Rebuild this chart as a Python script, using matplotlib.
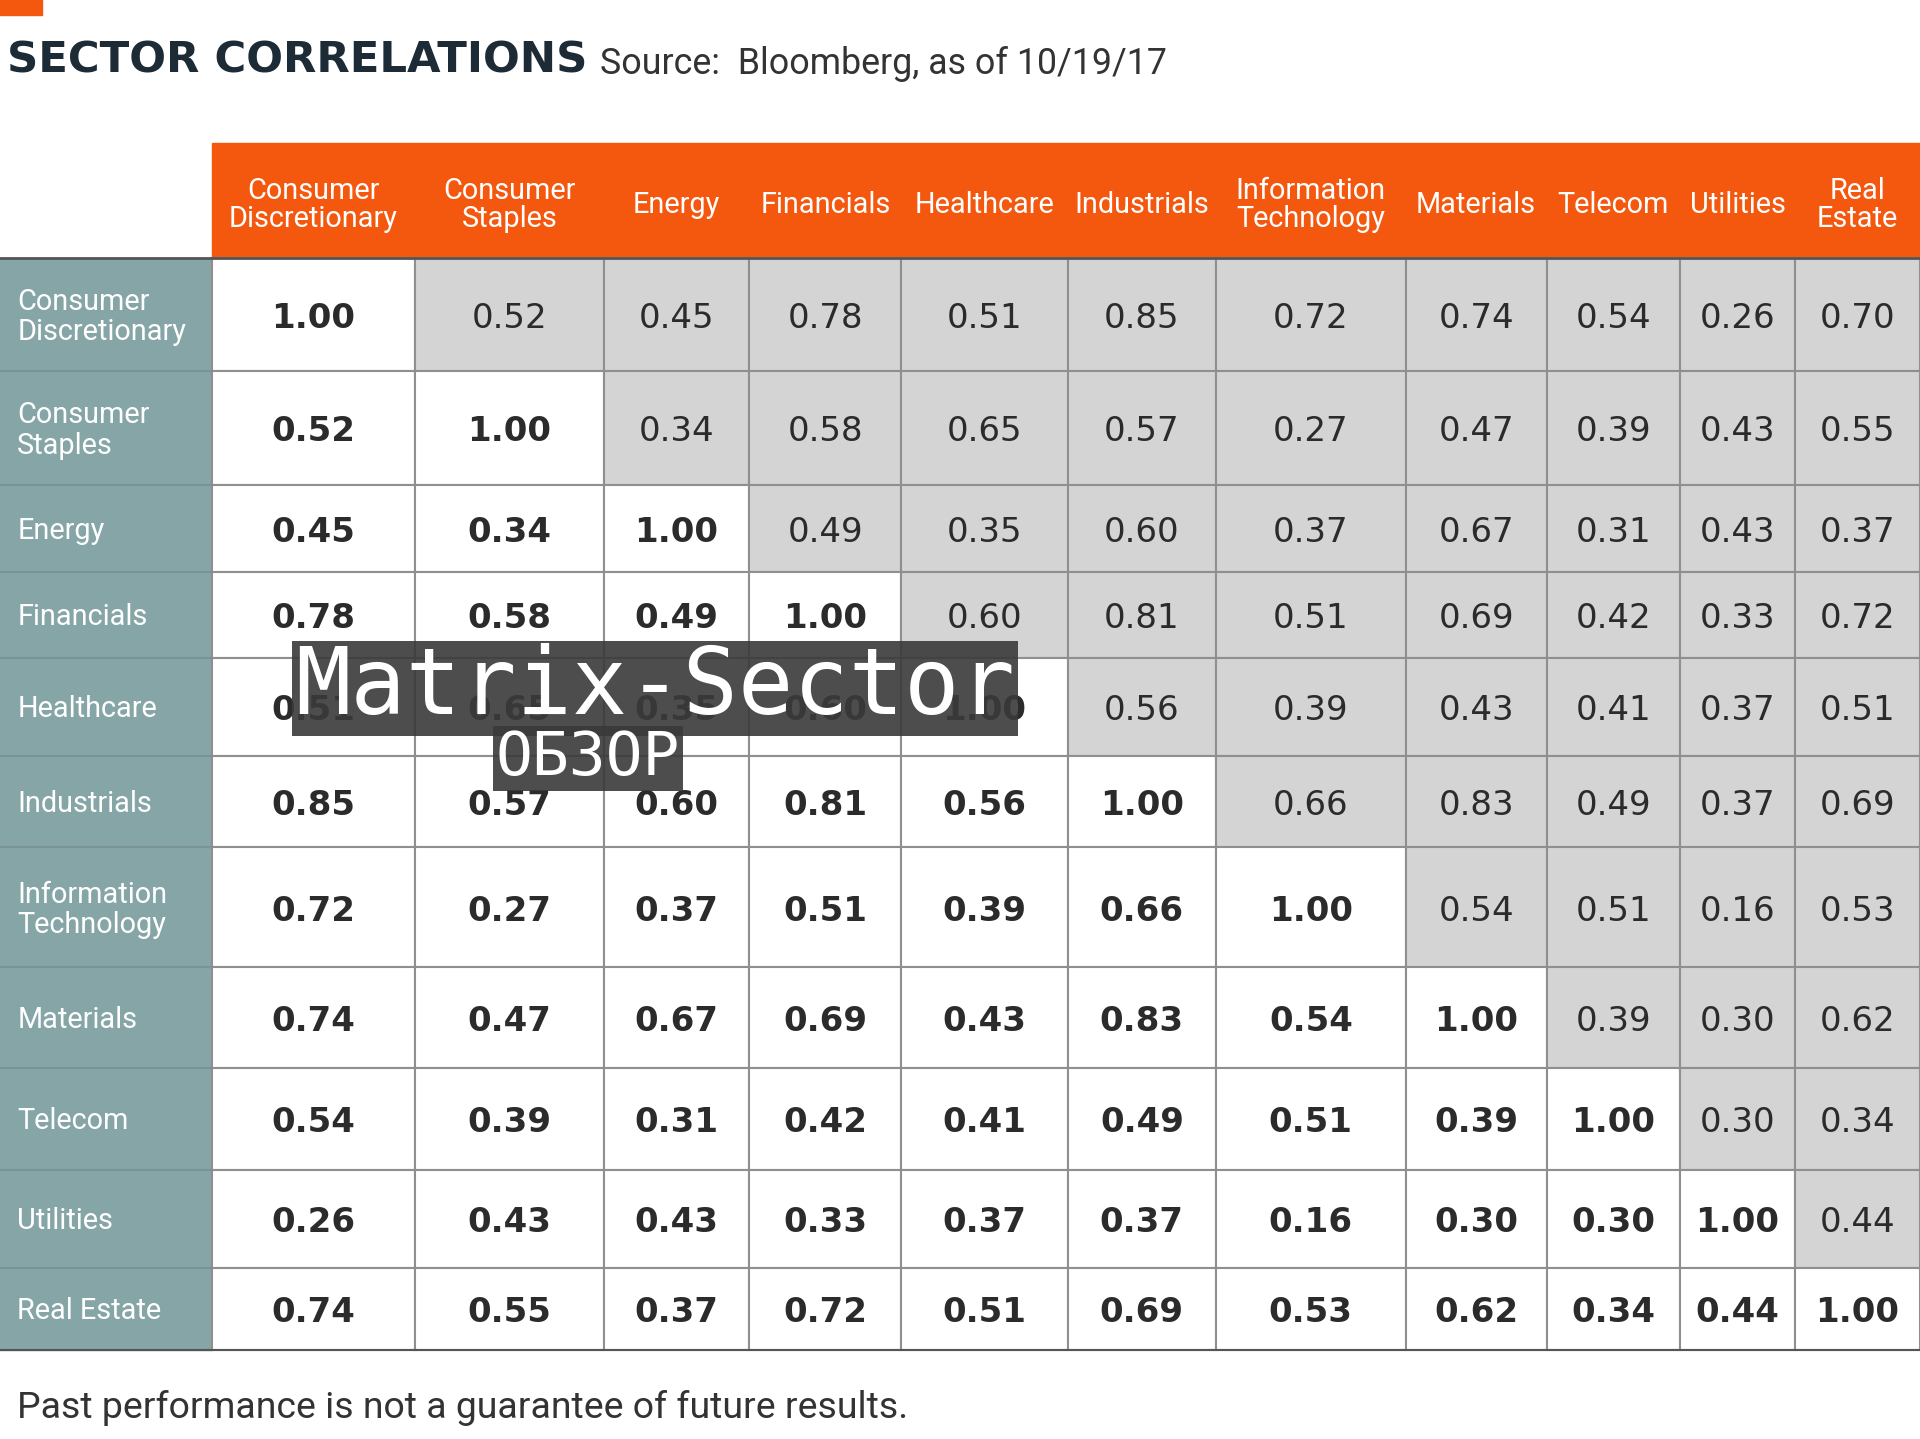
import matplotlib
matplotlib.use("Agg")
import matplotlib.pyplot as plt
from matplotlib.patches import Rectangle

sectors = ["Consumer\nDiscretionary", "Consumer\nStaples", "Energy", "Financials", "Healthcare",
           "Industrials", "Information\nTechnology", "Materials", "Telecom", "Utilities", "Real\nEstate"]
row_labels = ["Consumer\nDiscretionary", "Consumer\nStaples", "Energy", "Financials", "Healthcare",
              "Industrials", "Information\nTechnology", "Materials", "Telecom", "Utilities", "Real Estate"]
values = [
    [1.00, 0.52, 0.45, 0.78, 0.51, 0.85, 0.72, 0.74, 0.54, 0.26, 0.70],
    [0.52, 1.00, 0.34, 0.58, 0.65, 0.57, 0.27, 0.47, 0.39, 0.43, 0.55],
    [0.45, 0.34, 1.00, 0.49, 0.35, 0.60, 0.37, 0.67, 0.31, 0.43, 0.37],
    [0.78, 0.58, 0.49, 1.00, 0.60, 0.81, 0.51, 0.69, 0.42, 0.33, 0.72],
    [0.51, 0.65, 0.35, 0.60, 1.00, 0.56, 0.39, 0.43, 0.41, 0.37, 0.51],
    [0.85, 0.57, 0.60, 0.81, 0.56, 1.00, 0.66, 0.83, 0.49, 0.37, 0.69],
    [0.72, 0.27, 0.37, 0.51, 0.39, 0.66, 1.00, 0.54, 0.51, 0.16, 0.53],
    [0.74, 0.47, 0.67, 0.69, 0.43, 0.83, 0.54, 1.00, 0.39, 0.30, 0.62],
    [0.54, 0.39, 0.31, 0.42, 0.41, 0.49, 0.51, 0.39, 1.00, 0.30, 0.34],
    [0.26, 0.43, 0.43, 0.33, 0.37, 0.37, 0.16, 0.30, 0.30, 1.00, 0.44],
    [0.74, 0.55, 0.37, 0.72, 0.51, 0.69, 0.53, 0.62, 0.34, 0.44, 1.00],
]

W, H = 1568, 1175
xb = [173, 339, 493, 612, 736, 872, 993, 1148, 1263, 1372, 1466, 1568]
yb = [211, 303, 396, 467, 537, 617, 692, 790, 872, 955, 1035, 1102]
ORANGE = "#f4580f"; TEAL = "#86a5a6"; GRAY = "#d4d4d4"; LINE = "#8f8f8f"; TXT = "#2b2b2b"
LAB = "Roboto"

fig = plt.figure(figsize=(19.2, 14.39), dpi=100)
ax = fig.add_axes([0, 0, 1, 1])
ax.set_xlim(0, W); ax.set_ylim(H, 0); ax.axis("off")
fs = 1.2245

ax.add_patch(Rectangle((0, 0), 34, 12, color=ORANGE))
ax.text(6, 49, "SECTOR CORRELATIONS", fontsize=25.5*fs, fontweight="bold", color="#1d2b36",
        va="center", ha="left", family="DejaVu Sans")
ax.text(490, 52, "Source:  Bloomberg, as of 10/19/17", fontsize=21*fs, color="#333333",
        va="center", ha="left", family=LAB)

ax.add_patch(Rectangle((173, 117), W-173, 94, color=ORANGE))
for j, s in enumerate(sectors):
    ax.text((xb[j]+xb[j+1])/2, 167, s, ha="center", va="center", color="white",
            fontsize=17*fs, linespacing=1.0, family=LAB)
ax.add_patch(Rectangle((0, 211), 173, 1102-211, color=TEAL))
for i, r in enumerate(row_labels):
    ax.text(14, (yb[i]+yb[i+1])/2 + 2, r, ha="left", va="center", color="white",
            fontsize=17*fs, linespacing=1.1, family=LAB)
    ax.plot([0, 173], [yb[i+1], yb[i+1]], color="#7a9394", lw=1.5)

for i in range(11):
    for j in range(11):
        x0, x1, y0, y1 = xb[j], xb[j+1], yb[i], yb[i+1]
        fc = "white" if j <= i else GRAY
        ax.add_patch(Rectangle((x0, y0), x1-x0, y1-y0, facecolor=fc, edgecolor=LINE, lw=1.5))
        ax.text((x0+x1)/2, (y0+y1)/2 + 3, f"{values[i][j]:.2f}", ha="center", va="center",
                fontsize=20*fs, color=TXT, fontweight="bold" if j <= i else "normal")

ax.plot([0, W], [211, 211], color="#555555", lw=2)
ax.plot([0, W], [1102, 1102], color="#555555", lw=1.5)
ax.text(14, 1150, "Past performance is not a guarantee of future results.", fontsize=22*fs,
        color="#333333", va="center", ha="left", family=LAB)

ax.text(535, 562, "Matrix-Sector", fontsize=54*fs, family="DejaVu Sans Mono", color="white",
        ha="center", va="center", bbox=dict(facecolor="#3a3a3a", edgecolor="none", pad=2, alpha=0.9))
ax.text(480, 619, "ОБЗОР", fontsize=36*fs, family="DejaVu Sans Mono", color="white",
        ha="center", va="center", bbox=dict(facecolor="#3a3a3a", edgecolor="none", pad=2, alpha=0.9))

fig.savefig("out.png", dpi=100)
